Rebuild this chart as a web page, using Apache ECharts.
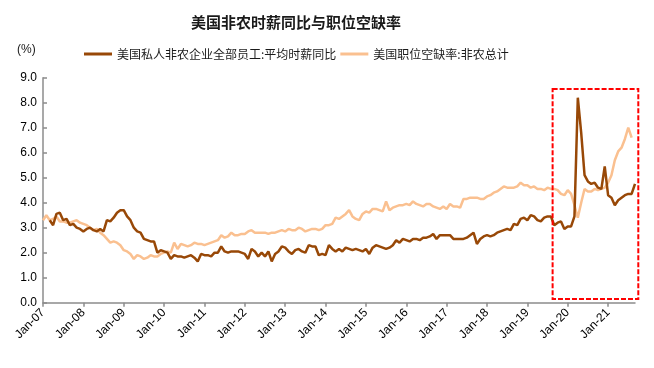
<!DOCTYPE html>
<html>
<head>
<meta charset="utf-8">
<script src="https://cdn.jsdelivr.net/npm/echarts@6/dist/echarts.min.js"></script>
<style>
html,body{margin:0;padding:0;background:#fff;}
#c{width:654px;height:368px;}
</style>
</head>
<body>
<div id="c"></div>
<script>
// ---- data ----
const monthNames = ['Jan','Feb','Mar','Apr','May','Jun','Jul','Aug','Sep','Oct','Nov','Dec'];
const startYear = 2007, endYear = 2021, endMonth = 9; // Jan-07 .. Sep-21
const categories = [];
for (let y = startYear; y <= endYear; y++) {
  for (let m = 0; m < 12; m++) {
    if (y === endYear && m >= endMonth) break;
    categories.push(monthNames[m] + '-' + String(y).slice(2));
  }
}
const yTicks = [0,1,2,3,4,5,6,7,8,9];
const titleText = '美国非农时薪同比与职位空缺率';
const unitText = '(%)';
const seriesNames = ['美国私人非农企业全部员工:平均时薪同比', '美国职位空缺率:非农总计'];

// 平均时薪同比 (%), monthly Jan-07 .. Sep-21
const wageYoY = [
  null, null, 3.3, 3.1, 3.55, 3.6, 3.3, 3.35, 3.1, 3.15, 3.0, 2.95,   // 2007
  2.85, 2.95, 3.0, 2.9, 2.85, 2.95, 2.85, 3.3, 3.25, 3.4, 3.6, 3.7,   // 2008
  3.7, 3.45, 3.3, 3.0, 2.85, 2.8, 2.55, 2.5, 2.45, 2.45, 2.0, 2.1,    // 2009
  2.05, 2.0, 1.75, 1.9, 1.85, 1.85, 1.8, 1.85, 1.9, 1.8, 1.65, 1.95,  // 2010
  1.9, 1.9, 1.85, 2.0, 2.0, 2.25, 2.05, 2.0, 2.05, 2.05, 2.05, 2.0,   // 2011
  1.95, 1.75, 2.15, 2.05, 1.85, 2.0, 1.85, 2.05, 1.65, 1.95, 2.05, 2.25, // 2012
  2.2, 2.05, 1.95, 2.1, 2.15, 2.05, 2.0, 2.3, 2.25, 2.25, 1.9, 1.95,  // 2013
  1.9, 2.3, 2.15, 2.05, 2.15, 2.05, 2.2, 2.15, 2.1, 2.15, 2.1, 2.05,  // 2014
  2.15, 1.95, 2.2, 2.3, 2.25, 2.2, 2.15, 2.2, 2.3, 2.5, 2.4, 2.55,    // 2015
  2.5, 2.45, 2.55, 2.55, 2.5, 2.6, 2.6, 2.65, 2.75, 2.55, 2.7, 2.7,   // 2016
  2.7, 2.7, 2.55, 2.55, 2.55, 2.55, 2.6, 2.7, 2.8, 2.35, 2.55, 2.65,  // 2017
  2.7, 2.65, 2.7, 2.8, 2.85, 2.9, 2.95, 2.9, 3.15, 3.1, 3.35, 3.4,    // 2018
  3.3, 3.5, 3.45, 3.3, 3.25, 3.4, 3.45, 3.45, 3.1, 3.2, 3.25, 2.95,   // 2019
  3.05, 3.05, 3.45, 8.2, 6.8, 5.1, 4.85, 4.75, 4.8, 4.6, 4.55, 5.45,  // 2020
  4.3, 4.2, 3.9, 4.1, 4.2, 4.3, 4.35, 4.35, 4.75                      // 2021
];

// 职位空缺率 (%), monthly Jan-07 .. Aug-21
const openingsRate = [
  3.3, 3.5, 3.3, 3.35, 3.45, 3.25, 3.25, 3.2, 3.2, 3.25, 3.3, 3.2,    // 2007
  3.15, 3.1, 3.0, 2.9, 2.95, 2.8, 2.7, 2.55, 2.4, 2.45, 2.4, 2.3,     // 2008
  2.1, 2.05, 1.95, 1.75, 1.9, 1.85, 1.75, 1.8, 1.9, 1.85, 1.85, 1.95, // 2009
  2.0, 2.05, 2.0, 2.4, 2.15, 2.35, 2.3, 2.25, 2.3, 2.4, 2.35, 2.35,   // 2010
  2.3, 2.35, 2.4, 2.45, 2.5, 2.7, 2.6, 2.65, 2.8, 2.7, 2.7, 2.75,     // 2011
  2.75, 2.85, 2.9, 2.8, 2.8, 2.8, 2.8, 2.75, 2.8, 2.8, 2.85, 2.9,     // 2012
  2.85, 2.95, 2.9, 2.9, 3.0, 2.95, 2.85, 2.9, 2.95, 2.95, 2.9, 2.95,  // 2013
  3.1, 3.1, 3.15, 3.4, 3.35, 3.45, 3.55, 3.7, 3.45, 3.35, 3.3, 3.55,  // 2014
  3.65, 3.6, 3.75, 3.75, 3.7, 3.65, 4.05, 3.7, 3.8, 3.85, 3.9, 3.9,   // 2015
  3.95, 3.9, 4.05, 3.95, 3.9, 3.85, 3.95, 3.95, 3.85, 3.8, 3.75, 3.85, // 2016
  3.75, 3.95, 3.85, 3.85, 3.8, 4.15, 4.15, 4.2, 4.2, 4.2, 4.15, 4.15, // 2017
  4.25, 4.3, 4.4, 4.45, 4.55, 4.65, 4.6, 4.6, 4.6, 4.65, 4.8, 4.7,    // 2018
  4.7, 4.6, 4.65, 4.55, 4.55, 4.5, 4.6, 4.55, 4.55, 4.5, 4.35, 4.3,   // 2019
  4.5, 4.35, 3.9, 3.4, 4.0, 4.55, 4.45, 4.45, 4.55, 4.5, 4.55, 4.6,   // 2020
  4.8, 5.1, 5.7, 6.05, 6.2, 6.55, 7.0, 6.6, null                      // 2021
];

// highlighted period (annotation box)
const boxFrom = 'Aug-19', boxTo = 'Sep-21';
const boxYLow = 0.15, boxYHigh = 8.55;

// ---- chart ----
const chart = echarts.init(document.getElementById('c'), null, {renderer: 'canvas'});
const baseFont = '"Liberation Sans", Arial, sans-serif';
const cjkFont = '"Noto Sans CJK SC", "Noto Sans", sans-serif';

chart.setOption({
  animation: false,
  backgroundColor: '#fff',
  title: {
    text: titleText,
    left: 186, top: 10,
    textStyle: {fontFamily: cjkFont, fontSize: 15, fontWeight: 'bold', color: '#1a1a1a'}
  },
  legend: {
    left: 79, top: 43,
    icon: 'rect', itemWidth: 28, itemHeight: 3, itemGap: 4,
    textStyle: {fontFamily: cjkFont, fontSize: 12, color: '#1a1a1a'},
    data: seriesNames
  },
  grid: {left: 43, right: 19, top: 77.7, bottom: 65.3, containLabel: false},
  xAxis: {
    type: 'category',
    data: categories,
    boundaryGap: false,
    axisLine: {lineStyle: {color: '#8c8c8c', width: 1.5}},
    axisTick: {show: true, length: 4, lineStyle: {color: '#8c8c8c', width: 1.5},
      interval: function (i) { return i % 12 === 0; }},
    axisLabel: {
      rotate: 45, margin: 8, fontSize: 12, color: '#000', fontFamily: baseFont,
      interval: function (i) { return i % 12 === 0; }
    },
    splitLine: {show: false}
  },
  yAxis: {
    type: 'value',
    min: yTicks[0], max: yTicks[yTicks.length - 1], interval: 1,
    axisLine: {show: true, lineStyle: {color: '#8c8c8c', width: 1.5}},
    axisTick: {show: true, inside: true, length: 4, lineStyle: {color: '#8c8c8c', width: 1.5}},
    axisLabel: {fontSize: 12, color: '#000', fontFamily: baseFont, margin: 6,
      formatter: function (v) { return v.toFixed(1); }},
    splitLine: {show: false}
  },
  series: [
    {
      name: seriesNames[0], type: 'line', data: wageYoY,
      symbol: 'none', connectNulls: false, z: 3,
      lineStyle: {color: '#984807', width: 2.5},
      itemStyle: {color: '#984807'}
    },
    {
      name: seriesNames[1], type: 'line', data: openingsRate,
      symbol: 'none', connectNulls: false, z: 2,
      lineStyle: {color: '#FAC090', width: 2.5},
      itemStyle: {color: '#FAC090'}
    }
  ],
  graphic: [
    {type: 'text', left: 17, top: 44,
      style: {text: unitText, fontFamily: baseFont, fontSize: 12, fill: '#1a1a1a'}}
  ]
});

// annotation box placed via the chart's own scales
const p1 = chart.convertToPixel({xAxisIndex: 0, yAxisIndex: 0}, [boxFrom, boxYHigh]);
const p2 = chart.convertToPixel({xAxisIndex: 0, yAxisIndex: 0}, [boxTo, boxYLow]);
chart.setOption({
  graphic: [
    {type: 'text', left: 17, top: 44,
      style: {text: unitText, fontFamily: baseFont, fontSize: 12, fill: '#1a1a1a'}},
    {type: 'rect', z: 10,
      shape: {x: p1[0] + 1.7, y: p1[1], width: (p2[0] + 3.3) - (p1[0] + 1.7), height: p2[1] - p1[1]},
      style: {fill: 'none', stroke: '#FF0000', lineWidth: 2, lineDash: [5, 2]}}
  ]
});
</script>
</body>
</html>
